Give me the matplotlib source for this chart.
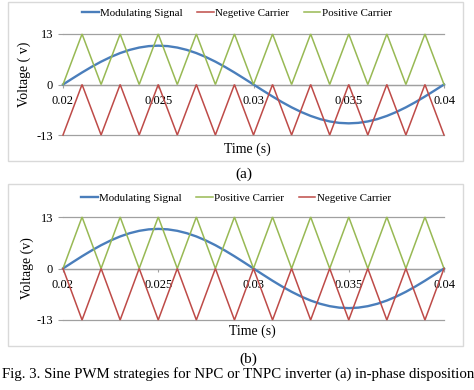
import matplotlib
matplotlib.use("Agg")
import matplotlib.pyplot as plt
from matplotlib.patches import Rectangle
from matplotlib.lines import Line2D

plt.rcParams['font.family'] = ['Liberation Serif', 'DejaVu Serif']

# ---------------- data ----------------
carrier_t = [0.020, 0.021, 0.022, 0.023, 0.024, 0.025, 0.026, 0.027, 0.028, 0.029, 0.030,
             0.031, 0.032, 0.033, 0.034, 0.035, 0.036, 0.037, 0.038, 0.039, 0.040]
pos_carrier = [0, 13, 0, 13, 0, 13, 0, 13, 0, 13, 0, 13, 0, 13, 0, 13, 0, 13, 0, 13, 0]
neg_carrier_a = [-13, 0, -13, 0, -13, 0, -13, 0, -13, 0, -13, 0, -13, 0, -13, 0, -13, 0, -13, 0, -13]
neg_carrier_b = [0, -13, 0, -13, 0, -13, 0, -13, 0, -13, 0, -13, 0, -13, 0, -13, 0, -13, 0, -13, 0]

mod_t = [0.0200, 0.0205, 0.0210, 0.0215, 0.0220, 0.0225, 0.0230, 0.0235, 0.0240, 0.0245,
         0.0250, 0.0255, 0.0260, 0.0265, 0.0270, 0.0275, 0.0280, 0.0285, 0.0290, 0.0295,
         0.0300, 0.0305, 0.0310, 0.0315, 0.0320, 0.0325, 0.0330, 0.0335, 0.0340, 0.0345,
         0.0350, 0.0355, 0.0360, 0.0365, 0.0370, 0.0375, 0.0380, 0.0385, 0.0390, 0.0395,
         0.0400]
mod_signal = [0.00, 1.56, 3.09, 4.54, 5.88, 7.07, 8.09, 8.91, 9.51, 9.88,
              10.00, 9.88, 9.51, 8.91, 8.09, 7.07, 5.88, 4.54, 3.09, 1.56,
              0.00, -1.56, -3.09, -4.54, -5.88, -7.07, -8.09, -8.91, -9.51, -9.88,
              -10.00, -9.88, -9.51, -8.91, -8.09, -7.07, -5.88, -4.54, -3.09, -1.56,
              0.00]

x_ticks = [0.02, 0.025, 0.03, 0.035, 0.04]
x_tick_labels = ['0.02', '0.025', '0.03', '0.035', '0.04']
y_ticks = [-13, 0, 13]
y_tick_labels = ['-13', '0', '13']

# ---------------- style ----------------
BLUE = '#4A7EBB'
RED = '#BE4B48'
GREEN = '#98B954'
GRID = '#A0A0A0'
BOX = '#D9D9D9'

W, H = 474, 390
fig = plt.figure(figsize=(W / 100, H / 100), dpi=100)


def fx(px):
    return px / W


def fy(py):
    return 1 - py / H


def panel(top_px, bot_px, series):
    ax = fig.add_axes([fx(63), fy(bot_px), fx(444) - fx(63), fy(top_px) - fy(bot_px)])
    for t, v, c, lw in series:
        ax.plot(t, v, color=c, lw=lw, clip_on=False, solid_joinstyle='miter')
    ax.set_xlim(0.02, 0.04)
    ax.set_ylim(-13, 13)
    ax.set_xticks(x_ticks)
    ax.set_xticklabels(x_tick_labels)
    ax.set_yticks(y_ticks)
    ax.set_yticklabels(y_tick_labels)
    for s in ['top', 'right', 'left']:
        ax.spines[s].set_visible(False)
    ax.spines['bottom'].set_position(('data', 0))
    ax.spines['bottom'].set_color(GRID)
    ax.spines['bottom'].set_linewidth(0.9)
    ax.spines['bottom'].set_zorder(0.5)
    ax.yaxis.grid(True, color=GRID, lw=0.9)
    ax.set_axisbelow(True)
    for gl in ax.get_ygridlines():
        gl.set_clip_on(False)
    ax.tick_params(axis='x', direction='out', length=2.5, width=0.8, color=GRID,
                   pad=5, labelsize=9)
    ax.tick_params(axis='y', direction='out', length=3.6, width=0.8, color=GRID,
                   pad=3.5, labelsize=9)
    ax.patch.set_alpha(0)
    return ax


# frames
fig.patches.append(Rectangle((fx(8), fy(161)), fx(463) - fx(8), fy(2) - fy(161),
                             transform=fig.transFigure, fill=False, ec=BOX, lw=1.0))
fig.patches.append(Rectangle((fx(8), fy(346)), fx(463) - fx(8), fy(184) - fy(346),
                             transform=fig.transFigure, fill=False, ec=BOX, lw=1.0))

# panel (a)
ax1 = panel(34, 135, [(mod_t, mod_signal, BLUE, 1.7),
                      (carrier_t, neg_carrier_a, RED, 1.1),
                      (carrier_t, pos_carrier, GREEN, 1.1)])
# panel (b)
ax2 = panel(217, 320, [(mod_t, mod_signal, BLUE, 1.7),
                       (carrier_t, pos_carrier, GREEN, 1.1),
                       (carrier_t, neg_carrier_b, RED, 1.1)])

# legends
h_mod = Line2D([], [], color=BLUE, lw=1.7)
h_neg = Line2D([], [], color=RED, lw=1.1)
h_pos = Line2D([], [], color=GREEN, lw=1.1)
leg_kw = dict(loc='center', ncol=3, frameon=False, fontsize=7.9, handlelength=1.5,
              handletextpad=0.15, columnspacing=1.3, borderpad=0, borderaxespad=0)
fig.legend([h_mod, h_neg, h_pos], ['Modulating Signal', 'Negetive Carrier', 'Positive Carrier'],
           bbox_to_anchor=(fx(237), fy(13)), **leg_kw)
fig.legend([h_mod, h_pos, h_neg], ['Modulating Signal', 'Positive Carrier', 'Negetive Carrier'],
           bbox_to_anchor=(fx(236), fy(198)), **leg_kw)

# axis titles
fig.text(fx(24), fy(74), 'Voltage ( v)', rotation=90, ha='center', va='center', fontsize=10)
fig.text(fx(27), fy(268), 'Voltage (v)', rotation=90, ha='center', va='center', fontsize=10)
fig.text(fx(247), fy(149), 'Time (s)', ha='center', va='center', fontsize=10)
fig.text(fx(252), fy(331), 'Time (s)', ha='center', va='center', fontsize=10)

# sub captions
fig.text(fx(244), fy(174), '(a)', ha='center', va='center', fontsize=11)
fig.text(fx(248), fy(359), '(b)', ha='center', va='center', fontsize=11)
fig.text(fx(2), fy(374), 'Fig. 3. Sine PWM strategies for NPC or TNPC inverter (a) in-phase disposition',
         ha='left', va='center', fontsize=10.7)

fig.savefig('out.png', dpi=100)
